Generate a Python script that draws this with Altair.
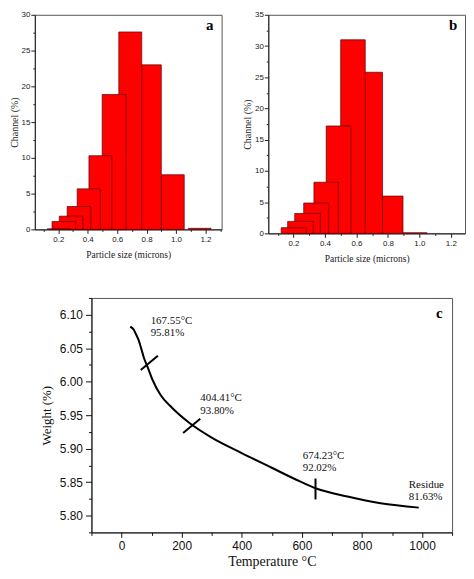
import altair as alt
import pandas as pd

# ---------------- data ----------------
# Panel a histogram: bin left edge, bin right edge, channel (%)
a_left = [0.125, 0.157, 0.206, 0.260, 0.328, 0.408, 0.498, 0.611, 0.740, 0.900, 1.084]
a_right = [0.280, 0.318, 0.367, 0.420, 0.485, 0.564, 0.660, 0.767, 0.900, 1.056, 1.238]
a_value = [0.08, 1.1, 1.85, 3.2, 5.67, 10.3, 18.85, 27.6, 23.0, 7.64, 0.15]

# Panel b histogram
b_left = [0.122, 0.163, 0.208, 0.265, 0.330, 0.408, 0.500, 0.610, 0.740, 0.896]
b_right = [0.281, 0.326, 0.371, 0.424, 0.485, 0.565, 0.656, 0.766, 0.896, 1.049]
b_value = [0.91, 1.92, 3.19, 4.86, 8.19, 17.2, 31.0, 25.8, 5.97, 0.1]

# Panel c TGA curve
temp = [29, 40, 48, 57, 64, 75, 86, 102, 130, 168, 224, 300, 400, 500, 580, 648, 752, 862, 989]
weight = [6.082, 6.078, 6.071, 6.062, 6.052, 6.035, 6.023, 6.004, 5.980, 5.961, 5.939,
          5.9165, 5.8935, 5.8715, 5.8540, 5.8405, 5.8285, 5.8185, 5.8120]

# marker strokes crossing the curve
mk_x1 = [64, 205, 645.5]
mk_y1 = [6.0175, 5.9234, 5.8554]
mk_x2 = [121, 262, 645.5]
mk_y2 = [6.0388, 5.9447, 5.8242]

# annotations
ann_x = [97, 262, 603, 956]
ann_y = [6.100, 5.984, 5.898, 5.855]
ann_text = ["167.55°C\n95.81%", "404.41°C\n93.80%", "674.23°C\n92.02%", "Residue\n81.63%"]

SERIF = "Liberation Serif"
SANS = "Liberation Sans"
NARROW = "Liberation Sans Narrow, Liberation Sans"


def hist_panel(left, right, value, ymax, xdom, w, h, letter):
    df = pd.DataFrame({"left": left, "right": right, "value": value})
    df = df.iloc[::-1].reset_index(drop=True)  # leftmost bars drawn on top
    xvals = [round(0.1 * i, 1) for i in range(1, 14) if 0.1 * i <= xdom[1] + 1e-9]
    yvals = [2.5 * i for i in range(int(ymax / 2.5) + 1)]
    xaxis = alt.Axis(
        values=xvals, format=".1f",
        labelExpr="round(datum.value*10) % 2 === 0 ? datum.label : ''",
        tickSize={"condition": {"test": "round(datum.value*10) % 2 === 0", "value": 4}, "value": 2},
        grid=False, title="Particle size (microns)", titleFont=SERIF, titleFontSize=9.5,
        titleFontWeight="normal", titleColor="#222", labelFont=NARROW, labelFontSize=8,
        labelColor="#222", domainColor="#222", tickColor="#222", labelPadding=2, titlePadding=6,
    )
    yaxis = alt.Axis(
        values=yvals, format="d",
        labelExpr="datum.value % 5 === 0 ? datum.label : ''",
        tickSize={"condition": {"test": "datum.value % 5 === 0", "value": 4}, "value": 2},
        grid=False, title="Channel (%)", titleFont=SERIF, titleFontSize=10,
        titleFontWeight="normal", titleColor="#222", labelFont=NARROW, labelFontSize=8,
        labelColor="#222", domainColor="#222", tickColor="#222", labelPadding=1, titlePadding=2,
    )
    bars = alt.Chart(df).mark_rect(color="#ff0000", stroke="#5a0000", strokeWidth=0.7).encode(
        x=alt.X("left:Q", scale=alt.Scale(domain=xdom, nice=False, zero=False), axis=xaxis),
        x2="right:Q",
        y=alt.Y("value:Q", scale=alt.Scale(domain=[0, ymax], nice=False), axis=yaxis),
        y2=alt.datum(0),
    )
    lab = alt.Chart(pd.DataFrame({"t": [letter]})).mark_text(
        font=SERIF, fontWeight="bold", fontSize=15, color="black"
    ).encode(text="t:N", x=alt.value(w - 12), y=alt.value(10))
    return alt.layer(bars, lab).properties(width=w, height=h)


pa = hist_panel(a_left, a_right, a_value, 30, [0.04, 1.31], 188, 216, "a")
pb = hist_panel(b_left, b_right, b_value, 35, [0.04, 1.29], 198, 220, "b")
top = alt.hconcat(pa, pb, spacing=19)

# ---------------- panel c ----------------
curve_df = pd.DataFrame({"temp": temp, "weight": weight})
mk_df = pd.DataFrame({"x1": mk_x1, "y1": mk_y1, "x2": mk_x2, "y2": mk_y2})
ann_df = pd.DataFrame({"x": ann_x, "y": ann_y, "t": ann_text})

xc = alt.Scale(domain=[-100, 1100], nice=False, zero=False)
yc = alt.Scale(domain=[5.775, 6.125], nice=False, zero=False)

cx_axis = alt.Axis(
    values=list(range(-100, 1101, 100)), format="d",
    labelExpr="datum.value % 200 === 0 ? datum.label : ''",
    tickSize={"condition": {"test": "datum.value % 200 === 0", "value": 5}, "value": 3},
    grid=False, title="Temperature °C", titleFont=SERIF, titleFontSize=14,
    titleFontWeight="normal", titleColor="#111", labelFont=SANS, labelFontSize=12,
    labelColor="#111", domainColor="#111", tickColor="#111", labelPadding=3, titlePadding=3,
)
cy_axis = alt.Axis(
    values=[round(5.775 + 0.025 * i, 3) for i in range(15)], format=".2f",
    labelExpr="round(datum.value*1000) % 50 === 0 ? datum.label : ''",
    tickSize={"condition": {"test": "round(datum.value*1000) % 50 === 0", "value": 6}, "value": 3},
    grid=False, title="Weight (%)", titleFont=SERIF, titleFontSize=13,
    titleFontWeight="normal", titleColor="#111", labelFont=SANS, labelFontSize=12,
    labelColor="#111", domainColor="#111", tickColor="#111", labelPadding=3, titlePadding=6,
)

line = alt.Chart(curve_df).mark_line(color="black", strokeWidth=2, interpolate="monotone").encode(
    x=alt.X("temp:Q", scale=xc, axis=cx_axis),
    y=alt.Y("weight:Q", scale=yc, axis=cy_axis),
)
marks = alt.Chart(mk_df).mark_rule(color="black", strokeWidth=2).encode(
    x=alt.X("x1:Q", scale=xc, axis=None), y=alt.Y("y1:Q", scale=yc, axis=None), x2="x2:Q", y2="y2:Q"
)
ann = alt.Chart(ann_df).mark_text(
    align="left", baseline="top", font=SERIF, fontSize=11, lineBreak="\n", lineHeight=12.5, color="#111"
).encode(x=alt.X("x:Q", scale=xc, axis=None), y=alt.Y("y:Q", scale=yc, axis=None), text="t:N")
lab_c = alt.Chart(pd.DataFrame({"t": ["c"]})).mark_text(
    font=SERIF, fontWeight="bold", fontSize=15, color="black"
).encode(text="t:N", x=alt.value(363 - 13), y=alt.value(15))

pc = alt.layer(line, marks, ann, lab_c).resolve_axis(x="independent", y="independent").properties(
    width=363, height=236
)

spacer = alt.Chart(pd.DataFrame({"v": [0]})).mark_text(text="").encode(
    x=alt.value(0), y=alt.value(0)
).properties(width=4, height=10, view=alt.ViewBackground(stroke="transparent"))

bottom = alt.hconcat(spacer, pc, spacing=0)

chart = alt.vconcat(top, bottom, spacing=28).properties(padding=0).configure_view(
    stroke="#555", strokeWidth=1
)

chart.save("out.html", embed_options={"renderer": "svg", "actions": False})
